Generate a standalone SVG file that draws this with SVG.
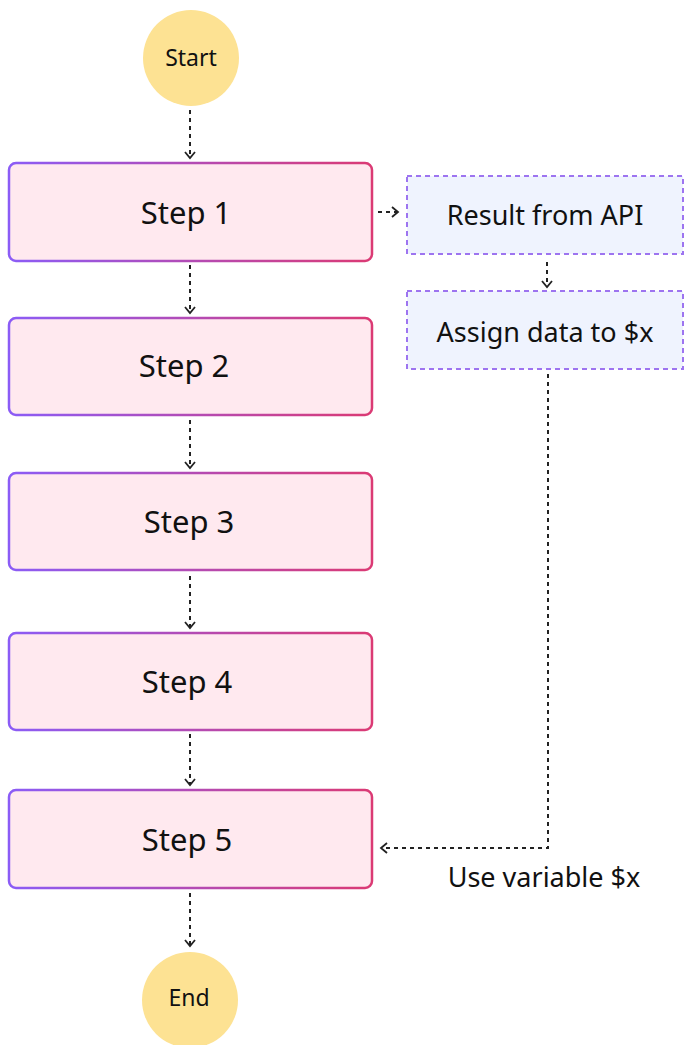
<svg xmlns="http://www.w3.org/2000/svg" width="684" height="1045" viewBox="0 0 684 1045">
<defs>
<linearGradient id="g" x1="0" y1="0" x2="1" y2="0">
<stop offset="0" stop-color="#8B5CF6"/>
<stop offset="1" stop-color="#DB3A74"/>
</linearGradient>
<marker id="ah" viewBox="0 0 12 12" refX="10" refY="6" markerWidth="12" markerHeight="12" markerUnits="userSpaceOnUse" orient="auto">
<path d="M4 1 L10 6 L4 11" fill="none" stroke="#222" stroke-width="1.8"/>
</marker>
</defs>
<style>
.step{fill:#FFE9EF;stroke:url(#g);stroke-width:2.5}
.term{fill:#FDE293}
.data{fill:#EFF3FE;stroke:#9D74F0;stroke-width:2;stroke-dasharray:5 4}
.t{font-family:"Noto Sans","Open Sans",sans-serif;fill:#111;text-anchor:middle;dominant-baseline:central}
.big{font-size:31px}
.mid{font-size:27px}
.sm{font-size:23px}
.c{fill:none;stroke:#222;stroke-width:2;stroke-dasharray:4 4;marker-end:url(#ah)}
</style>
<rect width="684" height="1045" fill="#fff"/>
<g id="start"><circle class="term" cx="191" cy="58" r="48"/><text class="t sm" x="191" y="57">Start</text></g>
<g id="step1"><rect class="step" x="9" y="163" width="363" height="98" rx="7"/><text class="t big" x="186" y="212">Step 1</text></g>
<g id="step2"><rect class="step" x="9" y="318" width="363" height="97" rx="7"/><text class="t big" x="184" y="365">Step 2</text></g>
<g id="step3"><rect class="step" x="9" y="473" width="363" height="97" rx="7"/><text class="t big" x="189" y="521">Step 3</text></g>
<g id="step4"><rect class="step" x="9" y="633" width="363" height="97" rx="7"/><text class="t big" x="187" y="681">Step 4</text></g>
<g id="step5"><rect class="step" x="9" y="790" width="363" height="98" rx="7"/><text class="t big" x="187" y="839">Step 5</text></g>
<g id="end"><circle class="term" cx="190" cy="1000" r="48"/><text class="t sm" x="189" y="997">End</text></g>
<g id="result"><rect class="data" x="407" y="176" width="276" height="78"/><text class="t mid" x="545" y="214">Result from API</text></g>
<g id="assign"><rect class="data" x="407" y="291" width="276" height="78"/><text class="t mid" x="545" y="331">Assign data to $x</text></g>
<g id="connectors">
<path class="c" d="M190 110 V158"/>
<path class="c" d="M190 265 V313"/>
<path class="c" d="M190 420 V468"/>
<path class="c" d="M190 576 V628"/>
<path class="c" d="M190 734 V785"/>
<path class="c" d="M190 893 V946"/>
<path class="c" d="M378 212 H398"/>
<path class="c" d="M547 262 V287"/>
<path class="c" d="M548 374 V848 H381"/>
<text class="t mid" x="544" y="876">Use variable $x</text>
</g>
</svg>
